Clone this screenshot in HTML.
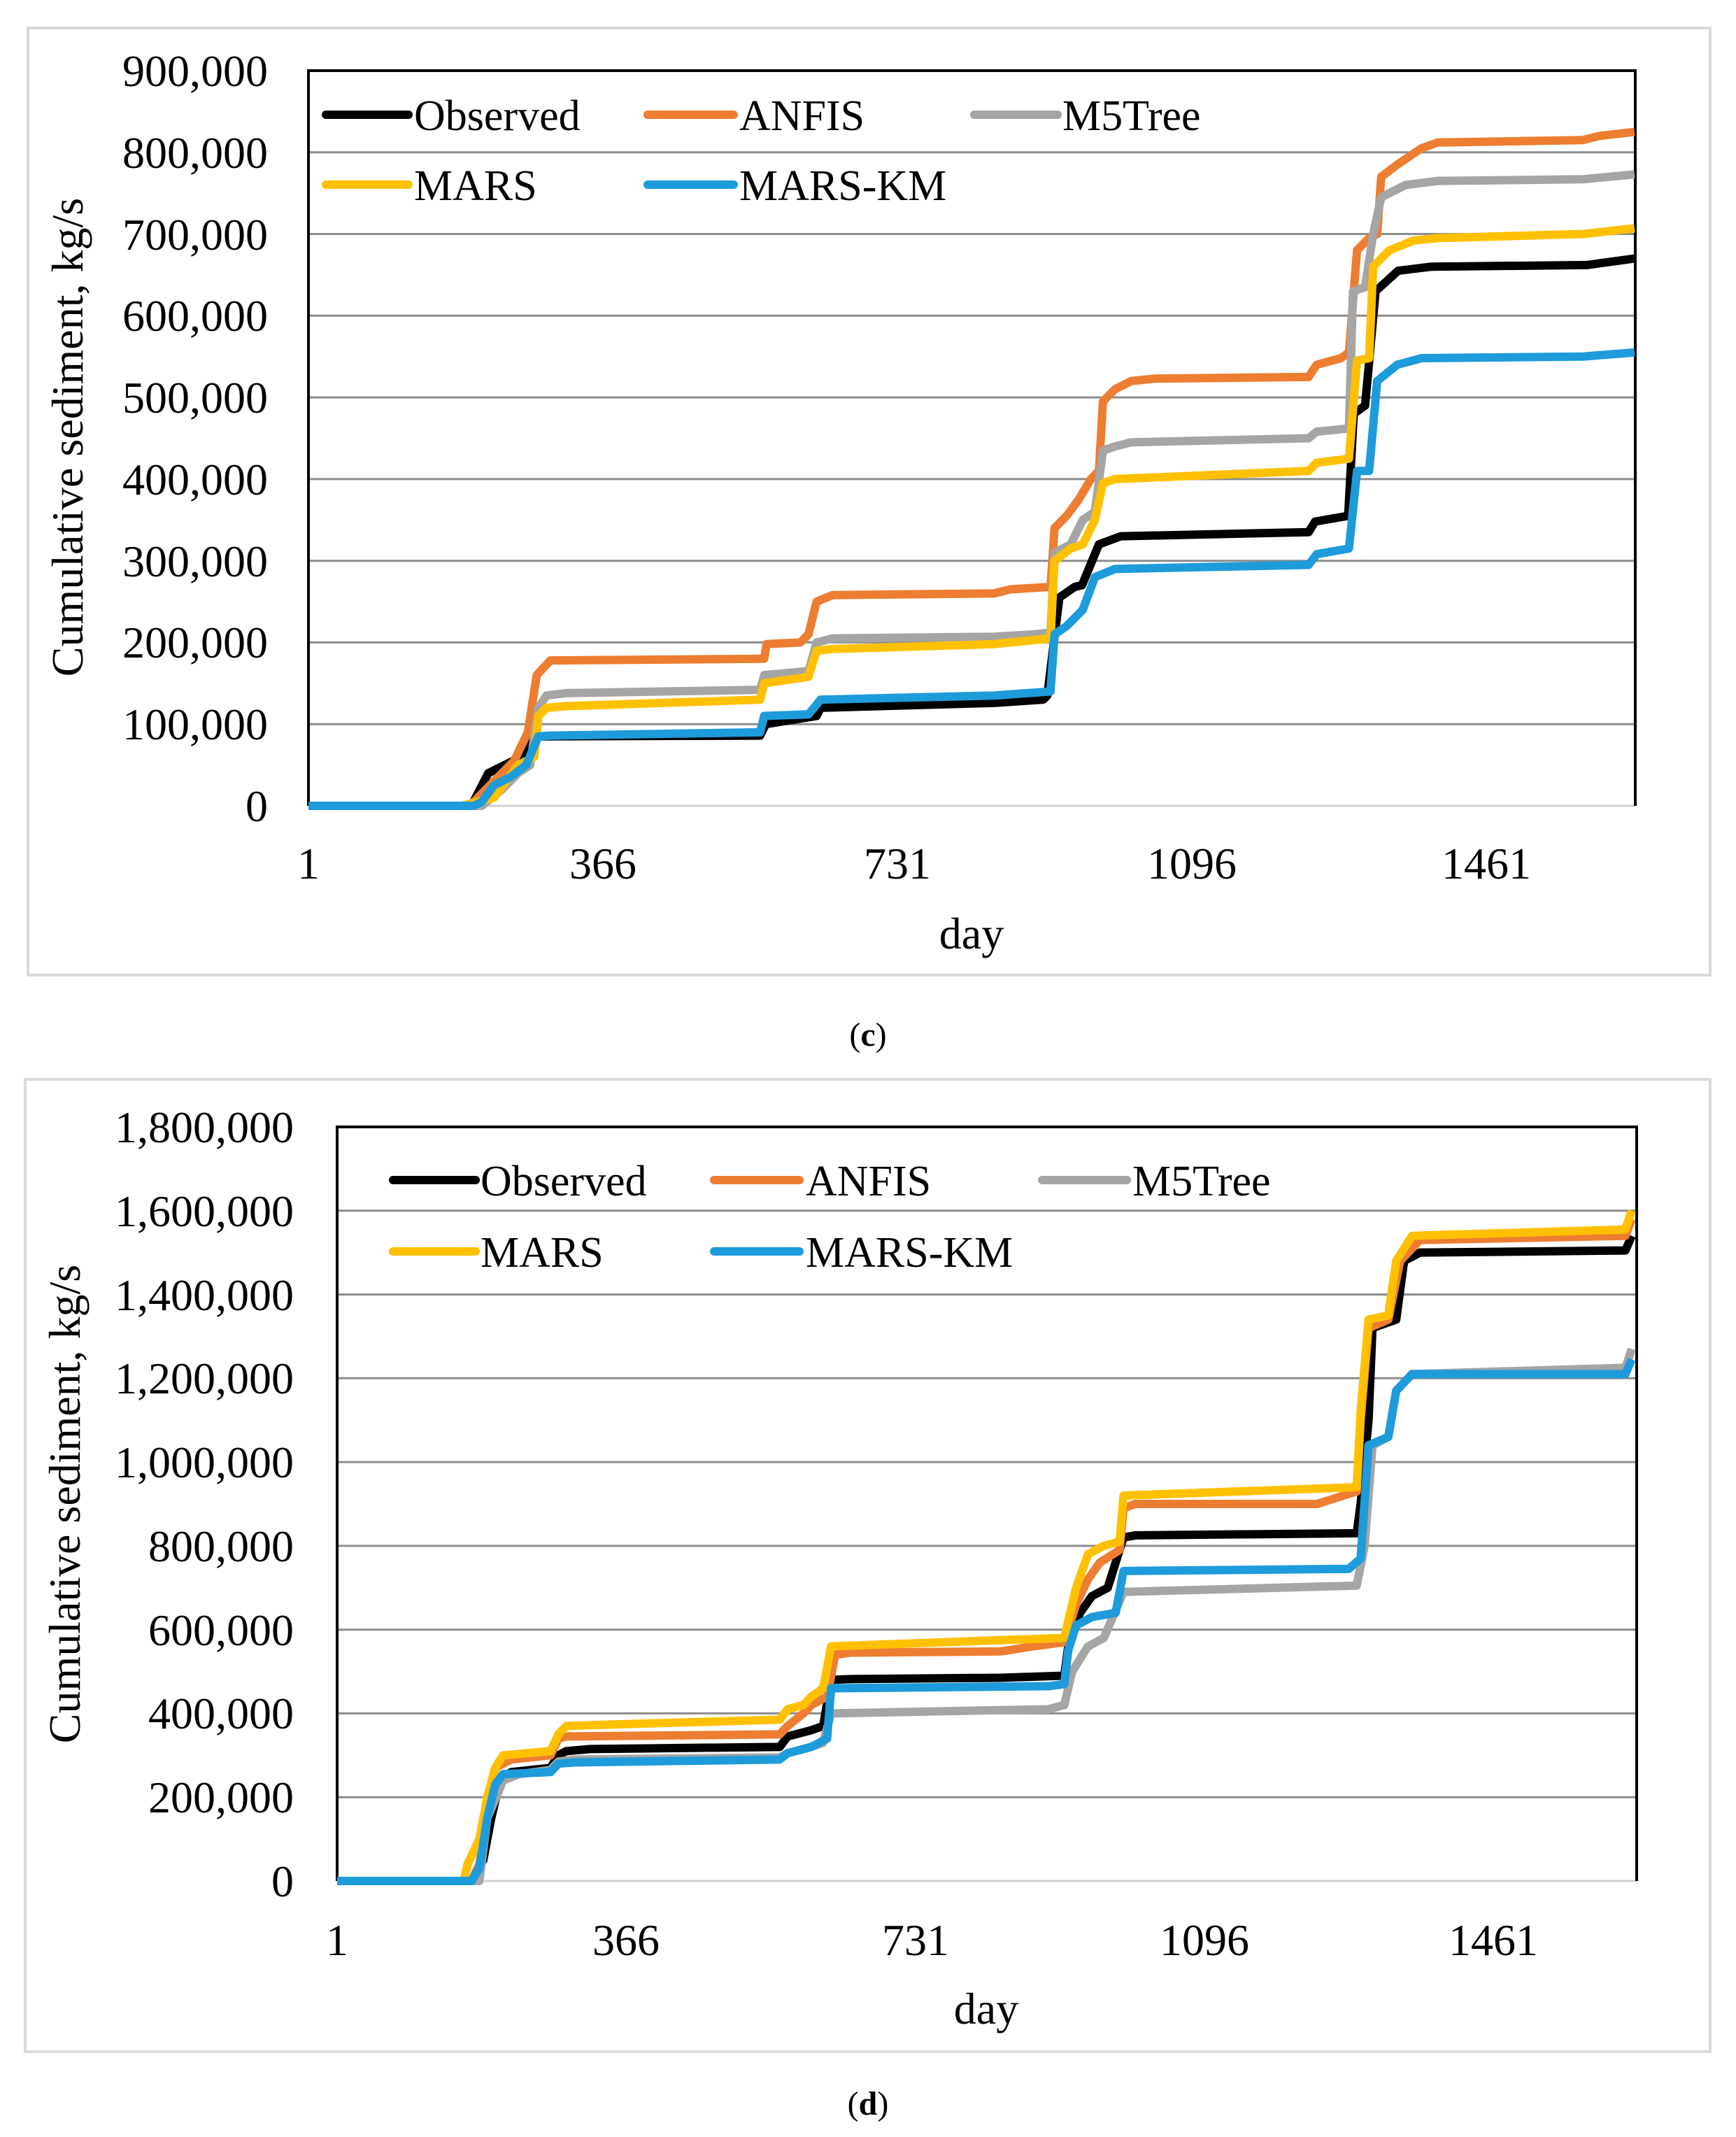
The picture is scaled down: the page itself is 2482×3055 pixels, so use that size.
<!DOCTYPE html>
<html><head><meta charset="utf-8"><style>html,body{margin:0;padding:0;background:#fff}svg{display:block}</style></head>
<body>
<svg width="2482" height="3055" viewBox="0 0 2482 3055" xmlns="http://www.w3.org/2000/svg" font-family="Liberation Serif, serif">
<rect width="2482" height="3055" fill="#fff"/>
<!-- Chart C -->
<rect x="40" y="40" width="2405" height="1354" fill="none" stroke="#D9D9D9" stroke-width="4"/>
<g stroke="#8C8C8C" stroke-width="3">
<line x1="441" x2="2338" y1="1152" y2="1152" stroke="#D0D0D0"/>
<line x1="441" x2="2338" y1="1035.2" y2="1035.2"/><line x1="441" x2="2338" y1="918.4" y2="918.4"/>
<line x1="441" x2="2338" y1="801.7" y2="801.7"/><line x1="441" x2="2338" y1="684.9" y2="684.9"/>
<line x1="441" x2="2338" y1="568.1" y2="568.1"/><line x1="441" x2="2338" y1="451.3" y2="451.3"/>
<line x1="441" x2="2338" y1="334.5" y2="334.5"/><line x1="441" x2="2338" y1="217.8" y2="217.8"/>
</g>
<polyline points="441,1152 441,101 2338,101 2338,1152" fill="none" stroke="#000" stroke-width="4"/>
<g font-size="64" text-anchor="end" fill="#000">
<text x="383" y="1174">0</text><text x="383" y="1057">100,000</text><text x="383" y="940">200,000</text>
<text x="383" y="824">300,000</text><text x="383" y="707">400,000</text><text x="383" y="590">500,000</text>
<text x="383" y="473">600,000</text><text x="383" y="357">700,000</text><text x="383" y="240">800,000</text>
<text x="383" y="123">900,000</text>
</g>
<g font-size="64" text-anchor="middle">
<text x="441" y="1256">1</text><text x="862" y="1256">366</text><text x="1283" y="1256">731</text>
<text x="1704" y="1256">1096</text><text x="2125" y="1256">1461</text>
<text x="1389" y="1356">day</text>
<text x="1241" y="1495" font-size="48">(<tspan font-weight="bold">c</tspan>)</text>
</g>
<text transform="translate(118,625) rotate(-90)" font-size="64" text-anchor="middle">Cumulative sediment, kg/s</text>
<g fill="none" stroke-linejoin="round">
<g transform="matrix(1.1532 0 0 -1.1678 441 1152)">
<polyline vector-effect="non-scaling-stroke" stroke="#000" stroke-width="12" points="0,0 202,0 223,40 264,60 275,85 560,86 567,100 630,110 635,120 850,126 911,130 916,135 931,255 950,268 959,270 980,320 1007,330 1240,335 1248,348 1289,355 1296,480 1310,490 1323,630 1351,655 1392,660 1585,662 1644,670"/>
<polyline vector-effect="non-scaling-stroke" stroke="#ED7D31" stroke-width="12" points="0,0 200,0 255,55 272,90 283,160 300,178 565,180 568,198 610,200 620,210 630,250 650,258 850,260 870,265 920,268 925,340 940,355 955,375 970,400 980,410 985,495 1000,510 1020,520 1050,523 1240,525 1250,540 1280,548 1290,555 1300,680 1315,695 1325,700 1330,770 1350,785 1380,805 1400,812 1580,815 1600,820 1644,825"/>
<polyline vector-effect="non-scaling-stroke" stroke="#A5A5A5" stroke-width="12" points="0,0 215,0 240,20 260,40 275,50 285,120 295,135 320,138 560,142 565,160 620,165 630,200 650,205 850,207 900,210 920,212 925,310 945,320 960,350 975,360 985,435 1000,440 1020,445 1240,450 1250,458 1290,462 1295,630 1310,635 1320,700 1330,745 1360,760 1400,765 1580,767 1644,773"/>
<polyline vector-effect="non-scaling-stroke" stroke="#FFC000" stroke-width="12" points="0,0 190,0 230,10 260,50 280,60 285,110 295,120 320,122 560,130 565,150 620,158 630,190 650,192 850,198 920,205 925,300 945,315 960,320 975,350 985,395 1000,400 1240,410 1250,420 1290,425 1300,545 1315,548 1320,660 1340,680 1370,692 1400,695 1580,700 1644,707"/>
<polyline vector-effect="non-scaling-stroke" stroke="#1D9BDB" stroke-width="12" points="0,0 205,0 215,5 230,25 250,35 270,50 285,85 300,86 560,90 565,110 620,112 635,130 850,135 920,140 925,210 940,220 960,240 975,280 1000,290 1240,295 1250,308 1290,315 1300,410 1315,410 1325,520 1350,540 1380,548 1580,550 1644,555"/>
</g></g>
<g stroke-width="12" stroke-linecap="round">
<line x1="466" x2="584" y1="164" y2="164" stroke="#000"/>
<line x1="926" x2="1049" y1="164" y2="164" stroke="#ED7D31"/>
<line x1="1393" x2="1512" y1="164" y2="164" stroke="#A5A5A5"/>
<line x1="466" x2="584" y1="264" y2="264" stroke="#FFC000"/>
<line x1="926" x2="1049" y1="264" y2="264" stroke="#1D9BDB"/>
</g>
<g font-size="62">
<text x="592" y="186">Observed</text><text x="1057" y="186">ANFIS</text><text x="1519" y="186">M5Tree</text>
<text x="592" y="286">MARS</text><text x="1057" y="286">MARS-KM</text>
</g>

<!-- Chart D -->
<rect x="36" y="1543" width="2409" height="1390" fill="none" stroke="#D9D9D9" stroke-width="4"/>
<g stroke="#8C8C8C" stroke-width="3">
<line x1="482" x2="2340" y1="2689" y2="2689" stroke="#D0D0D0"/>
<line x1="482" x2="2340" y1="2569.2" y2="2569.2"/><line x1="482" x2="2340" y1="2449.4" y2="2449.4"/>
<line x1="482" x2="2340" y1="2329.7" y2="2329.7"/><line x1="482" x2="2340" y1="2209.9" y2="2209.9"/>
<line x1="482" x2="2340" y1="2090.1" y2="2090.1"/><line x1="482" x2="2340" y1="1970.3" y2="1970.3"/>
<line x1="482" x2="2340" y1="1850.6" y2="1850.6"/><line x1="482" x2="2340" y1="1730.8" y2="1730.8"/>
</g>
<polyline points="482,2689 482,1611 2340,1611 2340,2689" fill="none" stroke="#000" stroke-width="4"/>
<g font-size="64" text-anchor="end">
<text x="420" y="2711">0</text><text x="420" y="2591">200,000</text><text x="420" y="2471">400,000</text>
<text x="420" y="2352">600,000</text><text x="420" y="2232">800,000</text><text x="420" y="2112">1,000,000</text>
<text x="420" y="1992">1,200,000</text><text x="420" y="1873">1,400,000</text><text x="420" y="1753">1,600,000</text>
<text x="420" y="1633">1,800,000</text>
</g>
<g font-size="64" text-anchor="middle">
<text x="482" y="2795">1</text><text x="895" y="2795">366</text><text x="1309" y="2795">731</text>
<text x="1722" y="2795">1096</text><text x="2135" y="2795">1461</text>
<text x="1410" y="2893">day</text>
<text x="1241" y="3023" font-size="48">(<tspan font-weight="bold">d</tspan>)</text>
</g>
<text transform="translate(114,2150) rotate(-90)" font-size="64" text-anchor="middle">Cumulative sediment, kg/s</text>
<g fill="none" stroke-linejoin="round">
<g transform="matrix(1.130 0 0 -0.5989 482 2689)">
<polyline vector-effect="non-scaling-stroke" stroke="#000" stroke-width="12" points="0,0 170,0 175,20 185,50 195,150 205,230 220,260 270,270 280,300 290,310 320,315 560,320 570,345 600,360 615,370 625,480 650,482 840,485 920,490 925,560 940,640 955,680 975,700 985,760 995,820 1010,825 1290,830 1295,900 1305,1100 1310,1320 1340,1340 1350,1480 1370,1500 1630,1505 1638,1540"/>
<polyline vector-effect="non-scaling-stroke" stroke="#ED7D31" stroke-width="12" points="0,0 170,0 180,40 190,150 200,270 220,290 270,300 280,340 290,345 560,350 570,370 590,400 600,420 620,440 630,540 650,545 840,548 880,560 920,570 925,600 935,660 950,720 965,760 990,790 995,890 1010,900 1240,900 1290,930 1295,1100 1305,1320 1330,1340 1345,1480 1370,1530 1630,1540 1638,1580"/>
<polyline vector-effect="non-scaling-stroke" stroke="#A5A5A5" stroke-width="12" points="0,0 180,0 190,150 210,240 230,255 270,265 280,285 300,290 560,295 570,305 600,320 615,330 625,400 900,410 920,420 930,500 950,560 970,580 995,690 1290,705 1300,800 1310,1040 1330,1060 1340,1170 1360,1210 1630,1225 1638,1270"/>
<polyline vector-effect="non-scaling-stroke" stroke="#FFC000" stroke-width="12" points="0,0 160,0 165,40 180,100 190,200 200,270 210,300 270,310 280,350 290,370 320,372 560,385 570,410 590,420 600,440 615,460 625,560 840,575 920,580 925,620 935,700 950,780 970,800 990,810 995,920 1290,940 1295,1120 1305,1340 1330,1350 1340,1480 1360,1540 1630,1555 1638,1600"/>
<polyline vector-effect="non-scaling-stroke" stroke="#1D9BDB" stroke-width="12" points="0,0 170,0 180,30 190,150 200,230 210,255 270,260 280,280 300,283 560,290 570,305 600,320 620,340 625,460 900,465 920,470 925,550 935,610 955,630 985,640 995,740 1280,745 1295,770 1305,1040 1330,1060 1340,1170 1360,1210 1630,1210 1638,1245"/>
</g></g>
<g stroke-width="12" stroke-linecap="round">
<line x1="562" x2="680" y1="1687" y2="1687" stroke="#000"/>
<line x1="1021" x2="1143" y1="1687" y2="1687" stroke="#ED7D31"/>
<line x1="1490" x2="1611" y1="1687" y2="1687" stroke="#A5A5A5"/>
<line x1="562" x2="680" y1="1789" y2="1789" stroke="#FFC000"/>
<line x1="1021" x2="1143" y1="1789" y2="1789" stroke="#1D9BDB"/>
</g>
<g font-size="62">
<text x="687" y="1709">Observed</text><text x="1152" y="1709">ANFIS</text><text x="1619" y="1709">M5Tree</text>
<text x="687" y="1811">MARS</text><text x="1152" y="1811">MARS-KM</text>
</g>
</svg>
</body></html>
